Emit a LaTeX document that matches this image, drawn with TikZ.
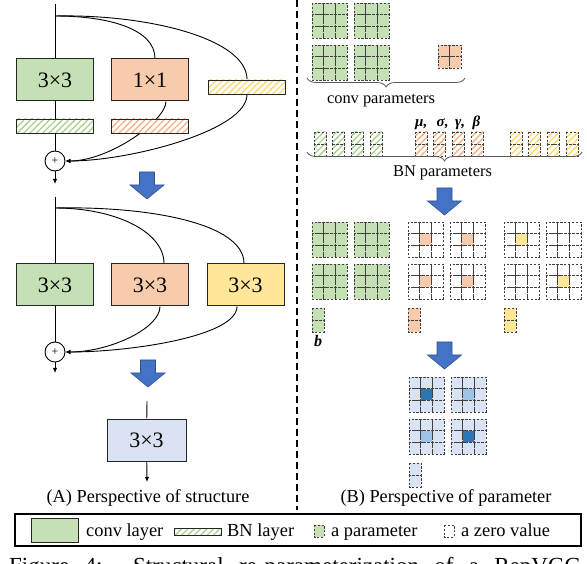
\documentclass[tikz,border=0pt]{standalone}
\usepackage{fontspec}
\setmainfont{Liberation Serif}
\usetikzlibrary{arrows.meta,patterns.meta,decorations.pathreplacing,calc}
\pgfdeclarelayer{bg}
\pgfsetlayers{bg,main}
\definecolor{cgreen}{HTML}{C5E0B4}
\definecolor{corange}{HTML}{F8CBAD}
\definecolor{cyellow}{HTML}{FFE699}
\definecolor{cblue}{HTML}{DAE3F3}
\definecolor{hgreen}{HTML}{A9D18E}
\definecolor{horange}{HTML}{F4B183}
\definecolor{hyellow}{HTML}{FFD966}
\definecolor{bdark}{HTML}{2E75B6}
\definecolor{blight}{HTML}{9DC3E6}
\definecolor{arrowblue}{HTML}{4472C4}
\definecolor{arrowedge}{HTML}{2F528F}
\definecolor{edgec}{HTML}{262626}
\definecolor{cellline}{HTML}{404040}
\definecolor{bracec}{HTML}{595959}
\def\cellsz{11.67}
\newcommand\kgrid[4]{%
  \fill[#3] (#1,#2) rectangle ++(35,35);
  \fill[#4] ({#1+\cellsz},{#2+\cellsz}) rectangle ++(\cellsz,\cellsz);
  \foreach \gi in {0,1,2}{\foreach \gj in {0,1,2}{\draw[dcell] ({#1+\gi*\cellsz},{#2+\gj*\cellsz}) rectangle ++(\cellsz,\cellsz);}}%
}
\newcommand\vecbox[3]{%
  \path[#3] (#1,#2) rectangle ++(12,24);
  \draw[dcell] (#1,#2) rectangle ++(12,12);
  \draw[dcell] (#1,{#2+12}) rectangle ++(12,12);
}
\tikzset{
  box/.style={draw=edgec, line width=1pt, minimum width=77pt, minimum height=42pt, inner sep=0pt, font=\fontsize{22}{24}\selectfont},
  bnbar/.style={draw=edgec, line width=0.9pt, minimum width=77pt, minimum height=14pt, inner sep=0pt},
  conn/.style={line width=0.9pt, draw=black},
  tipped/.style={-{Latex[length=5pt,width=4.5pt]}},
  addc/.style={circle, draw=black, line width=0.9pt, fill=white, minimum size=20pt, inner sep=0pt, font=\fontsize{12}{12}\selectfont},
  dcell/.style={draw=cellline, dash pattern=on 2.2pt off 1.6pt, line width=0.8pt},
  hatchg/.style={preaction={fill=white}, pattern={Lines[angle=45,distance=4.5pt,line width=1.3pt]}, pattern color=hgreen},
  hatcho/.style={preaction={fill=white}, pattern={Lines[angle=45,distance=4.5pt,line width=1.3pt]}, pattern color=horange},
  hatchy/.style={preaction={fill=white}, pattern={Lines[angle=45,distance=4.5pt,line width=1.3pt]}, pattern color=hyellow},
  bluearrow/.pic={\filldraw[fill=arrowblue, draw=arrowedge, line width=0.6pt] (-7.5,0) -- (7.5,0) -- (7.5,13) -- (17,13) -- (0,27) -- (-17,13) -- (-7.5,13) -- cycle;},
  bracestyle/.style={draw=bracec, line width=0.8pt, decorate, decoration={brace, mirror, amplitude=9pt}},
  lbl/.style={font=\fontsize{18.3}{20}\selectfont},
  small/.style={font=\fontsize{16.4}{18}\selectfont},
  leg/.style={font=\fontsize{18.4}{20}\selectfont},
  greek/.style={font=\fontsize{15}{15}\bfseries\itshape, inner sep=0pt}
}
\begin{document}
\begin{tikzpicture}[x=1pt,y=-1pt]
\useasboundingbox (0,0) rectangle (587,564);
\clip (0,0) rectangle (587,564);
\begin{pgfonlayer}{bg}
\fill[white] (0,0) rectangle (587,564);
\end{pgfonlayer}

% ---------- Block 1 ----------
\coordinate (in1) at (55,4);
\coordinate (br1) at (55,16);
\coordinate (out1) at (55,184);
\node[box, fill=cgreen] (conv1a) at (55,80) {3×3};
\node[box, fill=corange] (conv1b) at (150,80) {1×1};
\node[bnbar, hatchy] (bn1c) at (247,87) {};
\node[bnbar, hatchg] (bn1a) at (55,126) {};
\node[bnbar, hatcho] (bn1b) at (150,126) {};
\node[addc] (plus1) at (55,161) {+};
\draw[conn] (in1) -- (conv1a);
\draw[conn] (conv1a) -- (bn1a);
\draw[conn] (bn1a) -- (plus1);
\draw[conn, tipped] (plus1) -- (out1);
\begin{pgfonlayer}{bg}
\draw[conn] (br1) .. controls +(55,0) and +(0,-29) .. ([xshift=5pt]conv1b.north);
\draw[conn] (br1) .. controls +(95,-2) and +(0,-40) .. (bn1c.north);
\draw[conn, tipped] ([xshift=16pt]conv1b.south) .. controls +(0,19) and +(44,0) .. (plus1.east);
\draw[conn, tipped] (bn1c.south) .. controls +(0,36) and +(64,0) .. (plus1.east);
\end{pgfonlayer}

\pic at (147,172) {bluearrow};

% ---------- Block 2 ----------
\coordinate (in2) at (55,197);
\coordinate (br2) at (55,208);
\coordinate (out2) at (55,373);
\node[box, fill=cgreen] (conv2a) at (55,285) {3×3};
\node[box, fill=corange] (conv2b) at (150,285) {3×3};
\node[box, fill=cyellow] (conv2c) at (245.5,285) {3×3};
\node[addc] (plus2) at (55,352) {+};
\draw[conn] (in2) -- (conv2a);
\draw[conn] (conv2a) -- (plus2);
\draw[conn, tipped] (plus2) -- (out2);
\begin{pgfonlayer}{bg}
\draw[conn] (br2) .. controls +(60,0) and +(0,-32) .. ([xshift=14pt]conv2b.north);
\draw[conn] (br2) .. controls +(95,-2) and +(0,-40) .. ([xshift=-1.5pt]conv2c.north);
\draw[conn, tipped] ([xshift=10pt]conv2b.south) .. controls +(0,22) and +(44,0) .. (plus2.east);
\draw[conn, tipped] ([xshift=-8.5pt]conv2c.south) .. controls +(0,30) and +(64,0) .. (plus2.east);
\end{pgfonlayer}

\pic at (148,360) {bluearrow};

% ---------- Block 3 ----------
\coordinate (in3) at (147,401);
\coordinate (out3) at (147,482);
\node[box, fill=cblue, minimum width=79pt] (conv3) at (146.5,440) {3×3};
\draw[conn] (in3) -- (conv3);
\draw[conn, tipped] (conv3) -- (out3);

\node[lbl, anchor=base] (capA) at (148,502) {(A) Perspective of structure};

% ---------- separator ----------
\draw[line width=2pt, dash pattern=on 7pt off 4pt] (297,0) -- (297,510);

% ---------- Right: conv parameters ----------
\kgrid{312}{3}{cgreen}{cgreen}
\kgrid{354}{3}{cgreen}{cgreen}
\kgrid{312}{45}{cgreen}{cgreen}
\kgrid{354}{45}{cgreen}{cgreen}
\fill[corange] (438,45) rectangle ++(23.34,23.34);
\foreach \gi in {0,1}{\foreach \gj in {0,1}{\draw[dcell] ({438+\gi*\cellsz},{45+\gj*\cellsz}) rectangle ++(\cellsz,\cellsz);}}
\draw[bracestyle] (307,78) -- (465,78);
\node[small, anchor=base] (convp) at (381,104) {conv parameters};

% ---------- BN parameters ----------
\foreach \vx in {314,332.7,351.3,370}{\vecbox{\vx}{132}{hatchg}}
\foreach \vx in {415,433.7,452.3,471}{\vecbox{\vx}{132}{hatcho}}
\foreach \vx in {510,528.7,547.3,566}{\vecbox{\vx}{132}{hatchy}}
\node[greek, anchor=base west] at (415,127) {μ,};
\node[greek, anchor=base west] at (436.5,127) {σ,};
\node[greek, anchor=base west] at (455,127) {γ,};
\node[greek, anchor=base west] at (472.5,127) {β};
\draw[bracestyle] (307,152) -- (582,152);
\node[small, anchor=base] (bnp) at (442.5,177) {BN parameters};

\pic at (444.5,188) {bluearrow};

% ---------- converted kernels ----------
\kgrid{312}{222}{cgreen}{cgreen}
\kgrid{354}{222}{cgreen}{cgreen}
\kgrid{312}{264}{cgreen}{cgreen}
\kgrid{354}{264}{cgreen}{cgreen}
\kgrid{408}{222}{white}{corange}
\kgrid{450}{222}{white}{corange}
\kgrid{408}{264}{white}{corange}
\kgrid{450}{264}{white}{corange}
\kgrid{504}{222}{white}{cyellow}
\kgrid{546}{222}{white}{white}
\kgrid{504}{264}{white}{white}
\kgrid{546}{264}{white}{cyellow}
\vecbox{312}{308}{fill=cgreen}
\vecbox{408}{308}{fill=corange}
\vecbox{504}{308}{fill=cyellow}
\node[greek, font=\fontsize{16}{16}\bfseries\itshape, anchor=base west] at (314,347) {b};

\pic at (444.5,342) {bluearrow};

% ---------- merged ----------
\kgrid{409}{377}{cblue}{bdark}
\kgrid{451}{377}{cblue}{blight}
\kgrid{409}{419}{cblue}{blight}
\kgrid{451}{419}{cblue}{bdark}
\vecbox{409}{463}{fill=cblue}

\node[lbl, anchor=base] (capB) at (446,502) {(B) Perspective of parameter};

% ---------- legend ----------
\draw[line width=1.3pt, draw=black] (15,514) rectangle (581,546);
\node[draw=edgec, fill=cgreen, line width=0.9pt, minimum width=47pt, minimum height=24pt, inner sep=0pt] (lgconv) at (54.5,530) {};
\node[leg, anchor=base west, inner sep=0pt] at (86,536) {conv layer};
\node[bnbar, hatchg, minimum width=47pt, minimum height=7pt] (lgbn) at (197.5,531.5) {};
\node[leg, anchor=base west, inner sep=0pt] at (227,536) {BN layer};
\draw[dcell, fill=cgreen] (314,525) rectangle (324,537);
\node[leg, anchor=base west, inner sep=0pt] at (331,536) {a parameter};
\draw[dcell, fill=white] (444,525) rectangle (454,537);
\node[leg, anchor=base west, inner sep=0pt] at (461,536) {a zero value};

% ---------- cut-off caption ----------
\node[anchor=north west, inner sep=0pt, font=\fontsize{23}{25}\selectfont] (figcap) at (9,557) {\makebox[572pt][s]{Figure 4:\ \ Structural re-parameterization of a RepVGG}};
\end{tikzpicture}
\end{document}
